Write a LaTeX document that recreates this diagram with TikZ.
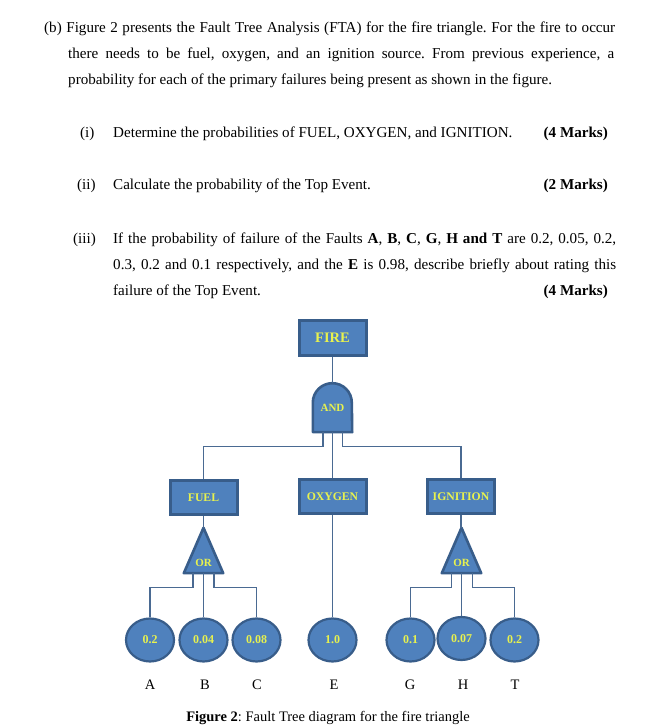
\documentclass[tikz,border=0pt]{standalone}
\usepackage{fontspec}
\setmainfont{Liberation Serif}
\usetikzlibrary{calc,shapes.geometric,backgrounds}
\definecolor{fblue}{HTML}{4F81BD}
\definecolor{dblue}{HTML}{385D8A}
\definecolor{lblue}{HTML}{4A6A92}
\definecolor{fyel}{HTML}{E8F24E}
\frenchspacing
\begin{document}
\begin{tikzpicture}[x=1pt,y=1pt,
 evbox/.style={draw=dblue, line width=3pt, fill=fblue, minimum width=67pt, minimum height=34pt, inner sep=0pt, font=\fontsize{11.7}{12}\selectfont\bfseries, text=fyel},
 basic/.style={ellipse, draw=dblue, line width=2.2pt, fill=fblue, minimum width=48pt, minimum height=43pt, inner sep=0pt, font=\fontsize{12}{12}\selectfont\bfseries, text=fyel},
 gatebox/.style={inner sep=0pt, minimum width=39pt, font=\fontsize{11}{12}\selectfont\bfseries, text=fyel},
 gate/.style={draw=dblue, line width=2.6pt, fill=fblue, line join=round},
 conn/.style={draw=lblue, line width=1.1pt},
 body/.style={anchor=base west, inner sep=0pt, font=\fontsize{15.1}{17}\selectfont},
 marks/.style={anchor=base east, inner sep=0pt, font=\fontsize{15.1}{17}\selectfont\bfseries},
 lab/.style={inner sep=0pt, font=\fontsize{14.5}{16}\selectfont},
]
\useasboundingbox (0,0) rectangle (665,728);

% ---- question text ----
\node[body] (t1) at (44,695) {\makebox[571pt][s]{(b) Figure 2 presents the Fault Tree Analysis (FTA) for the fire triangle. For the fire to occur}};
\node[body] (t2) at (68,669) {\makebox[546pt][s]{there needs to be fuel, oxygen, and an ignition source. From previous experience, a}};
\node[body] (t3) at (68,643) {probability for each of the primary failures being present as shown in the figure.};

\node[body] (q1n) at (80,590) {(i)};
\node[body] (q1) at (113,590) {Determine the probabilities of FUEL, OXYGEN, and IGNITION.};
\node[marks] (q1m) at (608,590) {(4 Marks)};

\node[body] (q2n) at (77,538) {(ii)};
\node[body] (q2) at (113,538) {Calculate the probability of the Top Event.};
\node[marks] (q2m) at (608,538) {(2 Marks)};

\node[body] (q3n) at (73,484) {(iii)};
\node[body] (q3a) at (113,484) {\makebox[503pt][s]{If the probability of failure of the Faults \textbf{A}, \textbf{B}, \textbf{C}, \textbf{G}, \textbf{H and T} are 0.2, 0.05, 0.2,}};
\node[body] (q3b) at (113,458) {\makebox[503pt][s]{0.3, 0.2 and 0.1 respectively, and the \textbf{E} is 0.98, describe briefly about rating this}};
\node[body] (q3c) at (113,432) {failure of the Top Event.};
\node[marks] (q3m) at (608,432) {(4 Marks)};

% ---- fault tree ----
\node[evbox, font=\fontsize{14.5}{15}\selectfont\bfseries, minimum height=35pt] (fire) at (332.5,390) {FIRE};
\node[gatebox, minimum height=49pt] (and) at (332.5,320.5) {AND};

\node[evbox] (fuel) at (203.5,230.5) {FUEL};
\node[evbox] (oxy) at (332.5,231) {OXYGEN};
\node[evbox] (ign) at (461,231) {IGNITION};

\node[gatebox, text height=39pt, text depth=6pt] (or1) at (203.5,177.5) {OR};
\node[gatebox, text height=39pt, text depth=6pt] (or2) at (461.5,177.5) {OR};

\node[basic] (a) at (150,88) {0.2};
\node[basic] (b) at (203.5,88) {0.04};
\node[basic] (c) at (256.5,88) {0.08};
\node[basic] (e) at (332.5,88) {1.0};
\node[basic] (g) at (410.5,88) {0.1};
\node[basic] (h) at (461.5,89.5) {0.07};
\node[basic] (t) at (514.5,88) {0.2};

\node[lab] (la) at (150,43) {A};
\node[lab] (lb) at (205,43) {B};
\node[lab] (lc) at (257,43) {C};
\node[lab] (le) at (334,43) {E};
\node[lab] (lg) at (410,43) {G};
\node[lab] (lh) at (463,43) {H};
\node[lab] (lt) at (515,43) {T};

\node[lab] (cap) at (328,10) {\textbf{Figure 2}: Fault Tree diagram for the fire triangle};

\begin{scope}[on background layer]
  \fill[white] (0,0) rectangle (665,728);
  % gate shapes
  \draw[gate] (and.south west) -- ($(and.south west)+(0,29.5)$) arc[start angle=180, end angle=0, radius=19.5] -- (and.south east) -- cycle;
  \draw[gate] (or1.south west) -- (or1.north) -- (or1.south east) -- cycle;
  \draw[gate] (or2.south west) -- (or2.north) -- (or2.south east) -- cycle;
  % connectors
  \draw[conn] (fire.south) -- (and.north);
  \draw[conn] ($(and.south)+(-9.5,0)$) -- ++(0,-14) -| (fuel.north);
  \draw[conn] (and.south) -- (oxy.north);
  \draw[conn] ($(and.south)+(10,0)$) -- ++(0,-14) -| (ign.north);
  \draw[conn] (fuel.south) -- (or1.north);
  \draw[conn] (oxy.south) -- (e.north);
  \draw[conn] (ign.south) -- (ign.south |- or2.north);
  \draw[conn] ($(or1.south)+(-10.5,0)$) -- ++(0,-14) -| (a.north);
  \draw[conn] (or1.south) -- (b.north);
  \draw[conn] ($(or1.south)+(10.5,0)$) -- ++(0,-14) -| (c.north);
  \draw[conn] ($(or2.south)+(-10,0)$) -- ++(0,-14) -| (g.north);
  \draw[conn] (or2.south) -- (h.north);
  \draw[conn] ($(or2.south)+(11,0)$) -- ++(0,-14) -| (t.north);
\end{scope}
\end{tikzpicture}
\end{document}
